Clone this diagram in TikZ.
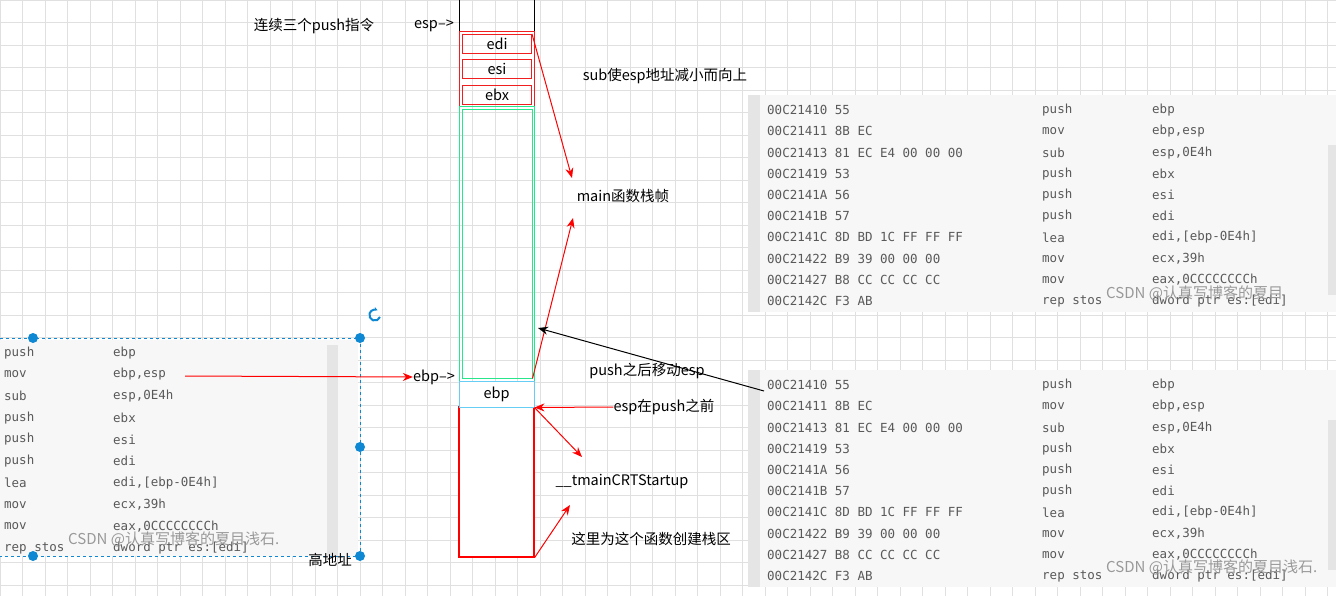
\documentclass[tikz,border=0pt]{standalone}
\usepackage{fontspec}
\setmainfont{Noto Sans CJK SC}
\newfontfamily\monof{DejaVu Sans Mono}
\usetikzlibrary{arrows.meta}
\definecolor{mint}{RGB}{40,230,140}
\definecolor{sred}{RGB}{240,30,30}
\begin{document}
\begin{tikzpicture}[x=1pt,y=-1pt,
 lab/.style={font=\fontsize{14.5}{16}\selectfont,inner sep=0},
 asm/.style={font=\monof\fontsize{12.5}{14}\selectfont,text=black!65,anchor=west,inner sep=0},
 wm/.style={font=\fontsize{15}{16}\selectfont,text=black!40,anchor=west,inner sep=0},
 rarr/.style={red,line width=1pt,-{Stealth[length=10pt,width=8pt]}},
 cell/.style={draw=sred,line width=1pt,minimum width=69pt,minimum height=19pt,inner sep=0,font=\fontsize{14.5}{16}\selectfont}]
\useasboundingbox (0,0) rectangle (1336,596);
\fill[white] (0,0) rectangle (1336,596);
\foreach \x in {0,22.5,...,1336} \draw[black!12] (\x,0) -- (\x,596);
\foreach \y in {0,22.5,...,596} \draw[black!12] (0,\y) -- (1336,\y);
% stack column
\draw[black,line width=1pt] (459,0) -- (459,32) (534,0) -- (534,32);
\node[cell] (edi) at (497,44) {edi};
\node[cell] (esi) at (497,69) {esi};
\node[cell] (ebx) at (497,95) {ebx};
\draw[sred,line width=1pt] (459,32) rectangle (534,107);
\node[draw=mint,line width=1pt,minimum width=70pt,minimum height=268pt,inner sep=0] (frame) at (497,244) {};
\draw[mint,line width=1pt] (459,107) rectangle (534,381);
\node[draw=red,fill=white,line width=1.2pt,minimum width=75pt,minimum height=150pt,inner sep=0] (lower) at (496.5,482) {};
\node[draw=cyan!60,fill=white,line width=1pt,minimum width=75pt,minimum height=26pt,inner sep=0,font=\fontsize{14.5}{16}\selectfont] (ebp) at (496.5,394) {ebp};
% labels
\node[lab] (l1) at (314,26) {连续三个push指令};
\node[lab] (espl) at (434,26) {esp-->};
\node[lab] (sub) at (665,76) {sub使esp地址减小而向上};
\node[lab] (main) at (623,196) {main函数栈帧};
\node[lab] (assign) at (258,357) {将esp赋值给ebp};
\node[lab] (ebpl) at (434,377) {ebp-->};
\node[lab] (pusha) at (647,371) {push之后移动esp};
\node[lab] (pushb) at (664,407) {esp在push之前};
\node[lab] (crt) at (622,482) {\_\_tmainCRTStartup};
\node[lab] (here) at (651,539) {这里为这个函数创建栈区};
\coordinate (subtip) at (572,178);
\coordinate (maintip) at (573,218);
\coordinate (crttip) at (582,457);
\coordinate (heretip) at (570,505);
\coordinate (pushtip) at (538,328);
\coordinate (pushsrc) at (764,391);
% left panel
\fill[black!3] (0,340) rectangle (358,556);
\fill[black!10] (327,345) rectangle (338,556);
\draw[cyan!70!blue,dashed,line width=1pt] (0,338) -- (360,338) -- (360,556) -- (0,556);
\foreach \p in {(33,338),(360,338),(360,447),(33,556),(360,556)} \fill[cyan!70!blue] \p circle (5);
\draw[cyan!70!blue,line width=2pt,-{Stealth[length=4pt]}] (380,317) arc (20:300:5.5);
\foreach [count=\i] \a/\b in {push/ebp,mov/{ebp,esp},sub/{esp,0E4h},push/ebx,push/esi,push/edi,lea/{edi,[ebp-0E4h]},mov/{ecx,39h},mov/{eax,0CCCCCCCCh},rep stos/{dword ptr es:[edi]}}{
 \node[asm] at (4,{331+21.7*\i}) {\a};
 \node[asm] at (113,{331+21.7*\i}) {\b};}
\node[wm] (wm1) at (68,539) {CSDN @认真写博客的夏目浅石.};
\node[lab] (hi) at (330,560) {高地址};
% right panels
\foreach \y in {95,370}{
 \fill[black!3] (748,\y) rectangle (1336,{\y+217});
 \fill[black!10] (748,\y) rectangle (760,{\y+217});
 \fill[black!10] (1328,{\y+50}) rectangle (1336,{\y+200});
 \foreach [count=\i] \a/\b/\c/\d in {00C21410 55/push/ebp/,00C21411 8B EC/mov/{ebp,esp}/,00C21413 81 EC E4 00 00 00/sub/{esp,0E4h}/,00C21419 53/push/ebx/,00C2141A 56/push/esi/,00C2141B 57/push/edi/,00C2141C 8D BD 1C FF FF FF/lea/{edi,[ebp-0E4h]}/,00C21422 B9 39 00 00 00/mov/{ecx,39h}/,00C21427 B8 CC CC CC CC/mov/{eax,0CCCCCCCCh}/,00C2142C F3 AB/rep stos/{dword ptr es:[edi]}/}{
  \node[asm] at (767,{\y-6+21.2*\i}) {\a};
  \node[asm] at (1042,{\y-6+21.2*\i}) {\b};
  \node[asm] at (1152,{\y-6+21.2*\i}) {\c};}
}
\node[wm] (wm2) at (1106,293) {CSDN @认真写博客的夏目};
\node[wm] (wm3) at (1106,567) {CSDN @认真写博客的夏目浅石.};
% connectors
\draw[rarr] (edi.north east) -- (subtip);
\draw[rarr] (frame.south east) -- (maintip);
\draw[black,line width=1pt,-{Stealth[length=10pt,width=8pt]}] (pushsrc) -- (pushtip);
\draw[rarr] (185,376) -- (ebpl.west);
\draw[rarr] (pushb.west) -- (ebp.south east);
\draw[rarr] (ebp.south east) -- (crttip);
\draw[rarr] (lower.south east) -- (heretip);
\end{tikzpicture}
\end{document}
